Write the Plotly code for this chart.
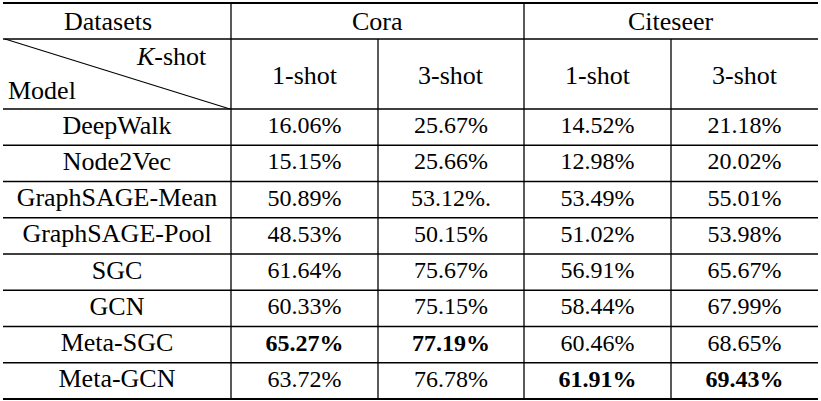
import plotly.graph_objects as go

# table contents
models = ["DeepWalk", "Node2Vec", "GraphSAGE-Mean", "GraphSAGE-Pool",
          "SGC", "GCN", "Meta-SGC", "Meta-GCN"]
datasets = ["Cora", "Citeseer"]
shots = ["1-shot", "3-shot"]
cora_1shot = [16.06, 15.15, 50.89, 48.53, 61.64, 60.33, 65.27, 63.72]
cora_3shot = [25.67, 25.66, 53.12, 50.15, 75.67, 75.15, 77.19, 76.78]
citeseer_1shot = [14.52, 12.98, 53.49, 51.02, 56.91, 58.44, 60.46, 61.91]
citeseer_3shot = [21.18, 20.02, 55.01, 53.98, 65.67, 67.99, 68.65, 69.43]
columns = [cora_1shot, cora_3shot, citeseer_1shot, citeseer_3shot]

# grid geometry (pixels of the 821x401 page)
W, H = 821, 401
col_edges = [3, 231, 378, 524, 671, 818]
row_edges = [3, 39, 109] + [109 + 36.25 * i for i in range(1, 9)]
FONT = "Liberation Serif, serif"
FS_TXT = 26   # words
FS_NUM = 24   # percentages

fig = go.Figure()

# body cells
for c, vals in enumerate(columns):
    best = max(vals)
    texts = []
    for r, v in enumerate(vals):
        t = "%.2f%%" % v
        if c == 1 and r == 2:
            t += "."  # stray dot as printed in the original
        if v == best:
            t = "<b>" + t + "</b>"
        texts.append(t)
    xc = (col_edges[c + 1] + col_edges[c + 2]) / 2
    yc = [(row_edges[r + 2] + row_edges[r + 3]) / 2 for r in range(len(vals))]
    fig.add_trace(go.Scatter(x=[xc] * len(vals), y=yc, mode="text", text=texts,
                             textposition="middle center",
                             textfont=dict(family=FONT, size=FS_NUM, color="black"),
                             hoverinfo="skip", showlegend=False))

# model names
fig.add_trace(go.Scatter(x=[(col_edges[0] + col_edges[1]) / 2] * len(models),
                         y=[(row_edges[r + 2] + row_edges[r + 3]) / 2 for r in range(len(models))],
                         mode="text", text=models, textposition="middle center",
                         textfont=dict(family=FONT, size=FS_TXT, color="black"),
                         hoverinfo="skip", showlegend=False))

# header texts
def label(x, y, text, anchor="center"):
    fig.add_annotation(x=x, y=y, xref="x", yref="y", text=text, showarrow=False,
                       xanchor=anchor, yanchor="middle",
                       font=dict(family=FONT, size=FS_TXT, color="black"))

label(108, 21, "Datasets")
for i, d in enumerate(datasets):
    label((col_edges[1 + 2 * i] + col_edges[3 + 2 * i]) / 2, 21, d)
for i in range(4):
    label((col_edges[i + 1] + col_edges[i + 2]) / 2, 75, shots[i % 2])
label(209, 56, "<i>K</i>-shot", "right")
label(6, 90, "Model", "left")

# rules
def line(x0, y0, x1, y1, w=1.3):
    fig.add_shape(type="line", x0=x0, y0=y0, x1=x1, y1=y1, xref="x", yref="y",
                  line=dict(color="black", width=w))

for i, y in enumerate(row_edges):
    line(col_edges[0], y, col_edges[-1], y, 2.2 if i in (0, len(row_edges) - 1) else 1.3)
line(col_edges[1], row_edges[0], col_edges[1], row_edges[-1])
line(col_edges[3], row_edges[0], col_edges[3], row_edges[-1])
for c in (2, 4):
    line(col_edges[c], row_edges[1], col_edges[c], row_edges[-1])
line(col_edges[0] + 2, row_edges[1], col_edges[1] - 1, row_edges[2], 1.1)

fig.update_xaxes(range=[0, W], visible=False, fixedrange=True)
fig.update_yaxes(range=[H, 0], visible=False, fixedrange=True)
fig.update_layout(width=W, height=H, margin=dict(l=0, r=0, t=0, b=0),
                  plot_bgcolor="white", paper_bgcolor="white")

# drop the browser's default body margin so page pixels match the layout
fig.write_html("out.html", config={"displayModeBar": False},
               post_script="document.body.style.margin='0';")
